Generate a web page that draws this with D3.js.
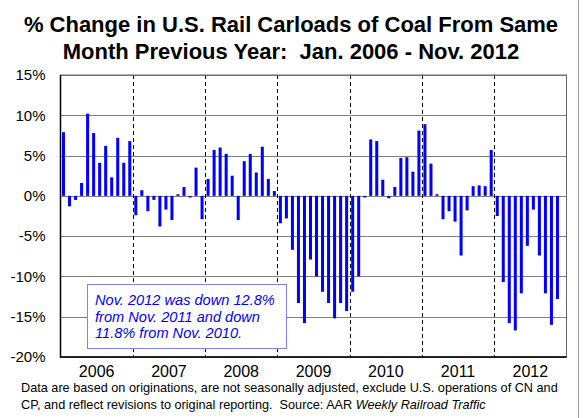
<!DOCTYPE html>
<html lang="en">
<head>
    <meta charset="utf-8">
    <title>Rail Carloads of Coal</title>
    <script src="https://d3js.org/d3.v7.min.js"></script>
    <style>
        body { margin: 0; background: #fff; }
        text { font-family: "Liberation Sans", Arial, sans-serif; }
    </style>
</head>

<body>
    <script type="text/javascript">
        // % change vs same month previous year, Jan 2006 .. Nov 2012
        var years = ["2006", "2007", "2008", "2009", "2010", "2011", "2012"];
        var monthNames = ["Jan", "Feb", "Mar", "Apr", "May", "Jun", "Jul", "Aug", "Sep", "Oct", "Nov", "Dec"];
        var change2006 = [7.9, -1.3, -0.5, 1.6, 10.2, 7.8, 4.1, 6.2, 2.3, 7.2, 4.1, 6.8];
        var change2007 = [-2.4, 0.7, -1.9, -0.5, -3.8, -1.7, -3.0, 0.2, 1.1, -0.2, 3.5, -2.9];
        var change2008 = [2.1, 5.7, 6.0, 5.2, 2.5, -3.0, 4.3, 5.2, 2.9, 6.1, 2.1, 0.6];
        var change2009 = [-3.4, -2.8, -6.7, -13.3, -15.8, -7.9, -10.0, -11.9, -13.3, -15.2, -13.3, -14.3];
        var change2010 = [-11.9, -10.0, -0.2, 7.0, 6.8, 2.0, -0.3, 1.1, 4.7, 4.8, 3.0, 8.1];
        var change2011 = [8.9, 4.0, 0.2, -2.9, -1.9, -3.2, -7.4, -1.8, 1.2, 1.3, 1.2, 5.7];
        var change2012 = [-2.5, -10.7, -15.8, -16.7, -12.1, -6.2, -1.7, -7.4, -12.1, -16.0, -12.8];
        var yTicks = [15, 10, 5, 0, -5, -10, -15, -20];

        var allYears = [change2006, change2007, change2008, change2009, change2010, change2011, change2012];
        var dataset = [];
        allYears.forEach(function(vals, yi) {
            vals.forEach(function(v, mi) {
                dataset.push({ key: years[yi] + "-" + monthNames[mi], year: years[yi], value: v });
            });
        });
        // every month slot, including the empty Dec 2012
        var slots = [];
        years.forEach(function(y) {
            monthNames.forEach(function(m) { slots.push(y + "-" + m); });
        });

        var w = 583;
        var h = 418;
        var plotLeft = 60.5, plotRight = 566.5, plotTop = 75, plotBottom = 357;

        var svg = d3.select("body")
                    .append("svg")
                    .attr("width", w)
                    .attr("height", h);

        var x = d3.scaleBand()
                  .domain(slots)
                  .range([plotLeft, plotRight])
                  .paddingInner(0.5)
                  .paddingOuter(0.25);
        var xYear = d3.scaleBand()
                      .domain(years)
                      .range([plotLeft, plotRight]);
        var y = d3.scaleLinear()
                  .domain([-20, 15])
                  .range([plotBottom, plotTop]);

        //Outer frame edge on the right
        svg.append("line")
           .attr("x1", 578.5).attr("x2", 578.5)
           .attr("y1", 0).attr("y2", h)
           .attr("stroke", "#9a9a9a");

        //Title
        svg.append("text")
           .attr("x", 291).attr("y", 32)
           .attr("text-anchor", "middle")
           .attr("font-size", "22px")
           .attr("font-weight", "bold")
           .text("% Change in U.S. Rail Carloads of Coal From Same");
        svg.append("text")
           .attr("x", 291).attr("y", 59)
           .attr("text-anchor", "middle")
           .attr("font-size", "22px")
           .attr("font-weight", "bold")
           .attr("xml:space", "preserve")
           .text("Month Previous Year:  Jan. 2006 - Nov. 2012");

        //Gridlines
        svg.selectAll("line.grid")
           .data(yTicks)
           .enter()
           .append("line")
           .attr("class", "grid")
           .attr("x1", plotLeft).attr("x2", plotRight)
           .attr("y1", function(d) { return Math.round(y(d)) + 0.5; })
           .attr("y2", function(d) { return Math.round(y(d)) + 0.5; })
           .attr("stroke", "#808080");

        //Y axis labels
        svg.append("g")
           .attr("transform", "translate(" + (plotLeft - 5) + ",0)")
           .call(d3.axisLeft(y).tickValues(yTicks).tickSize(0).tickPadding(10)
                  .tickFormat(function(d) { return d + "%"; }))
           .call(function(g) { g.select(".domain").remove(); })
           .selectAll("text")
           .attr("font-size", "15px")
           .attr("font-family", "Liberation Sans, Arial, sans-serif")
           .attr("fill", "#000");

        //Year separators
        svg.selectAll("line.sep")
           .data(years.slice(1))
           .enter()
           .append("line")
           .attr("class", "sep")
           .attr("x1", function(d) { return Math.round(xYear(d)) + 0.5; })
           .attr("x2", function(d) { return Math.round(xYear(d)) + 0.5; })
           .attr("y1", plotTop).attr("y2", plotBottom)
           .attr("stroke", "#000")
           .attr("stroke-dasharray", "4,3");

        //Bars
        svg.selectAll("rect.bar")
           .data(dataset)
           .enter()
           .append("rect")
           .attr("class", "bar")
           .attr("x", function(d) { return x(d.key); })
           .attr("width", x.bandwidth())
           .attr("y", function(d) { return y(Math.max(0, d.value)); })
           .attr("height", function(d) { return Math.abs(y(d.value) - y(0)); })
           .attr("fill", "#0000ff");

        //Plot frame
        svg.append("rect")
           .attr("x", plotLeft).attr("y", plotTop)
           .attr("width", plotRight - plotLeft).attr("height", plotBottom - plotTop)
           .attr("fill", "none")
           .attr("stroke", "#666");
        svg.append("path")
           .attr("d", "M" + plotLeft + "," + plotTop + "V" + plotBottom + "H" + plotRight)
           .attr("fill", "none")
           .attr("stroke", "#000")
           .attr("stroke-width", 1.5);

        //Year labels
        svg.selectAll("text.year")
           .data(years)
           .enter()
           .append("text")
           .attr("class", "year")
           .attr("x", function(d) { return xYear(d) + xYear.bandwidth() / 2; })
           .attr("y", 377)
           .attr("text-anchor", "middle")
           .attr("font-size", "16px")
           .text(function(d) { return d; });

        //Annotation box
        var note = svg.append("g");
        note.append("rect")
            .attr("x", 87.5).attr("y", 284.5)
            .attr("width", 199).attr("height", 64)
            .attr("fill", "#fff")
            .attr("stroke", "#8080ff");
        var noteLines = ["Nov. 2012 was down 12.8%", "from Nov. 2011 and down", "11.8% from Nov. 2010."];
        note.selectAll("text")
            .data(noteLines)
            .enter()
            .append("text")
            .attr("x", 95)
            .attr("y", function(d, i) { return 305 + i * 16.5; })
            .attr("font-size", "14.6px")
            .attr("font-style", "italic")
            .attr("fill", "#0000ff")
            .text(function(d) { return d; });

        //Footnote
        svg.append("text")
           .attr("x", 21).attr("y", 392)
           .attr("font-size", "12.7px")
           .text("Data are based on originations, are not seasonally adjusted, exclude U.S. operations of CN and");
        var foot2 = svg.append("text")
           .attr("x", 21).attr("y", 409)
           .attr("font-size", "12.7px")
           .attr("xml:space", "preserve");
        foot2.append("tspan").text("CP, and reflect revisions to original reporting.  Source: AAR ");
        foot2.append("tspan").attr("font-style", "italic").text("Weekly Railroad Traffic");
    </script>
</body>
</html>
